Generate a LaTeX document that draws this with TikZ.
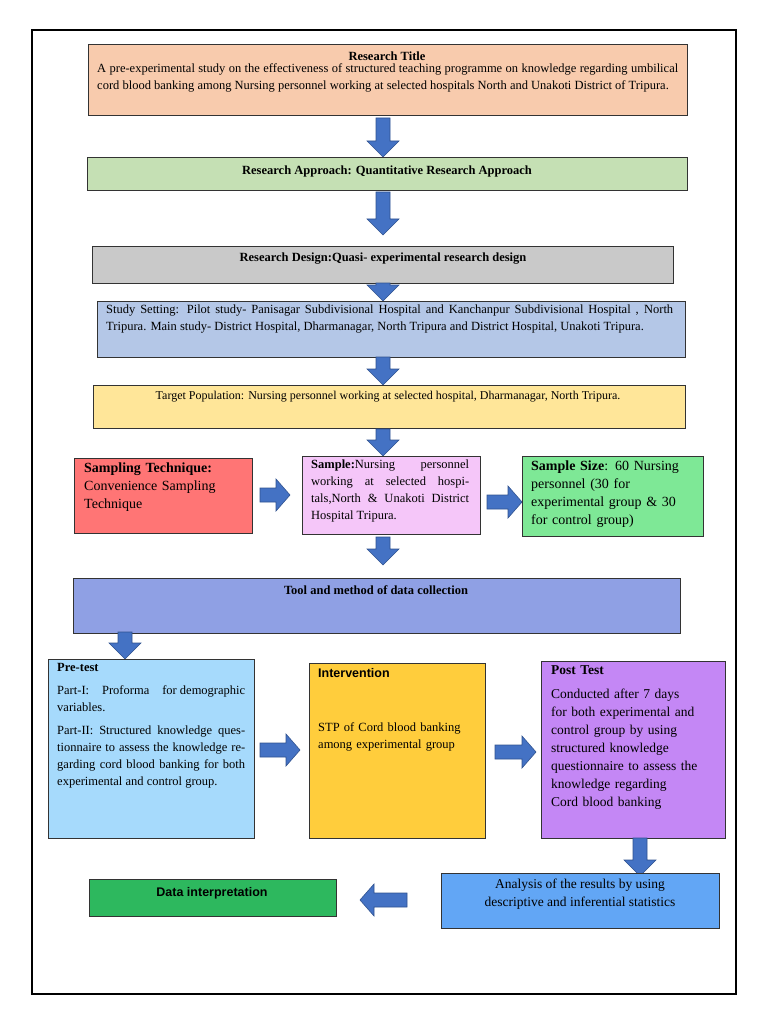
\documentclass[tikz,border=0pt]{standalone}
\usepackage{fontspec}
\setmainfont{Liberation Serif}
\newfontfamily\sansf{Liberation Sans}
\usetikzlibrary{positioning}
\definecolor{barrow}{HTML}{4472C4}
\definecolor{barrowe}{HTML}{2F528F}
\newcommand{\DnArrow}[3]{% x, ytop, ybot
  \path[blockarrow] (#1-7,#2) -- (#1+7,#2) -- (#1+7,#3-16) -- (#1+16,#3-16) -- (#1,#3) -- (#1-16,#3-16) -- (#1-7,#3-16) -- cycle;}
\newcommand{\RtArrow}[3]{% y, xleft, xright
  \path[blockarrow] (#2,#1-7) -- (#2,#1+7) -- (#3-14,#1+7) -- (#3-14,#1+16) -- (#3,#1) -- (#3-14,#1-16) -- (#3-14,#1-7) -- cycle;}
\newcommand{\LtArrow}[3]{% y, xright, xleft
  \path[blockarrow] (#2,#1-7) -- (#2,#1+7) -- (#3+14,#1+7) -- (#3+14,#1+16) -- (#3,#1) -- (#3+14,#1-16) -- (#3+14,#1-7) -- cycle;}
\begin{document}
\begin{tikzpicture}[x=1pt,y=-1pt,
  box/.style={draw=black!80,line width=0.8pt},
  blockarrow/.style={fill=barrow,draw=barrowe,line width=0.6pt},
  txt/.style={anchor=north west,inner sep=0pt,align=justify,font=\fontsize{12.5}{17}\selectfont},
  ctr/.style={anchor=center,inner sep=0pt,align=center,font=\fontsize{12.5}{17}\selectfont\bfseries}]
\useasboundingbox (0,0) rectangle (768,1024);
\draw[line width=1.2pt] (32,30) rectangle (736,994);
% Title
\draw[box,fill={rgb,255:red,248;green,203;blue,173}] (88,44) rectangle (687,115);
\node[ctr] (t1) at (387,56) {Research Title};
\node[txt,text width=581pt] (t2) at (97,64) {A pre-experimental study on the effectiveness of structured teaching programme on knowledge regarding umbilical cord blood banking among Nursing personnel working at selected hospitals North and Unakoti District of Tripura.};
\DnArrow{383}{118}{157}
% Approach
\draw[box,fill={rgb,255:red,197;green,224;blue,180}] (87,157) rectangle (687,190);
\node[ctr] (ap) at (387,171) {Research Approach: Quantitative Research Approach};
\DnArrow{383}{192}{235}
% Design
\draw[box,fill={rgb,255:red,201;green,201;blue,201}] (92,246) rectangle (673,283);
\node[ctr] (de) at (383,259) {Research Design:Quasi- experimental research design};
\DnArrow{383}{283}{301}
% Setting
\draw[box,fill={rgb,255:red,180;green,199;blue,231}] (97,301) rectangle (685,357);
\node[txt,text width=567pt] (se) at (106,305) {Study Setting: Pilot study- Panisagar Subdivisional Hospital and Kanchanpur Subdivisional Hospital , North Tripura. Main study- District Hospital, Dharmanagar, North Tripura and District Hospital, Unakoti Tripura.};
\DnArrow{383}{357}{385}
% Target
\draw[box,fill={rgb,255:red,255;green,230;blue,153}] (93,385) rectangle (685,428);
\node[anchor=center,inner sep=0pt,font=\fontsize{12}{16}\selectfont] (ta) at (388,397) {Target Population: Nursing personnel working at selected hospital, Dharmanagar, North Tripura.};
\DnArrow{383}{429}{456}
% Sampling row
\draw[box,fill={rgb,255:red,255;green,117;blue,117}] (74,458) rectangle (252,533);
\node[txt,text width=160pt,align=left,font=\fontsize{14}{18}\selectfont] (st) at (84,463) {\textbf{Sampling Technique:}\\Convenience Sampling\\Technique};
\RtArrow{495}{260}{290}
\draw[box,fill={rgb,255:red,245;green,198;blue,249}] (302,456) rectangle (480,534);
\node[txt,text width=158pt] (sa) at (311,460) {\textbf{Sample:}Nursing personnel working at selected hospitals,North \& Unakoti District Hospital Tripura.};
\RtArrow{502}{487}{522}
\draw[box,fill={rgb,255:red,126;green,232;blue,150}] (522,456) rectangle (703,536);
\node[txt,text width=170pt,align=left,font=\fontsize{14}{18}\selectfont] (ss) at (531,461) {\textbf{Sample Size}: 60 Nursing\\personnel (30 for\\experimental group \& 30\\for control group)};
\DnArrow{383}{537}{565}
% Tool
\draw[box,fill={rgb,255:red,143;green,160;blue,228}] (73,578) rectangle (680,633);
\node[ctr] (to) at (376,590) {Tool and method of data collection};
\DnArrow{125}{632}{659}
% Pretest
\draw[box,fill={rgb,255:red,166;green,218;blue,252}] (48,659) rectangle (254,838);
\node[txt,text width=188pt,font=\fontsize{12.5}{17}\selectfont] (pr) at (57,663) {\textbf{Pre-test}\par\vspace{6pt}
Part-I:\hfill Proforma\hfill for demographic variables.\par\vspace{6pt}
Part-II: Structured knowledge questionnaire to assess the knowledge regarding cord blood banking for both experimental and control group.};
\RtArrow{750}{260}{300}
% Intervention
\draw[box,fill={rgb,255:red,255;green,205;blue,60}] (309,663) rectangle (485,838);
\node[txt,text width=160pt,font=\sansf\fontsize{12.5}{17}\selectfont\bfseries] (in) at (318,668) {Intervention};
\node[txt,text width=160pt,align=left] (in2) at (318,722) {STP of Cord blood banking among experimental group};
\RtArrow{752}{495}{536}
% Post test
\draw[box,fill={rgb,255:red,196;green,135;blue,245}] (541,661) rectangle (725,838);
\node[txt,text width=170pt,align=left,font=\fontsize{13.5}{18}\selectfont] (po) at (551,665) {\textbf{Post Test}\par\vspace{6pt}
Conducted after 7 days\\for both experimental and\\control group by using\\structured knowledge\\questionnaire to assess the\\knowledge regarding\\Cord blood banking};
\DnArrow{640}{838}{876}
% Analysis
\draw[box,fill={rgb,255:red,98;green,166;blue,245}] (441,873) rectangle (719,928);
\node[anchor=center,inner sep=0pt,align=center,font=\fontsize{13.5}{18}\selectfont] (an) at (580,894) {Analysis of the results by using\\descriptive and inferential statistics};
\LtArrow{900}{407}{360}
% Data interpretation
\draw[box,fill={rgb,255:red,45;green,184;blue,94}] (89,879) rectangle (336,916);
\node[anchor=center,inner sep=0pt,font=\sansf\fontsize{12.5}{17}\selectfont\bfseries] (di) at (212,893) {Data interpretation};
\end{tikzpicture}
\end{document}
